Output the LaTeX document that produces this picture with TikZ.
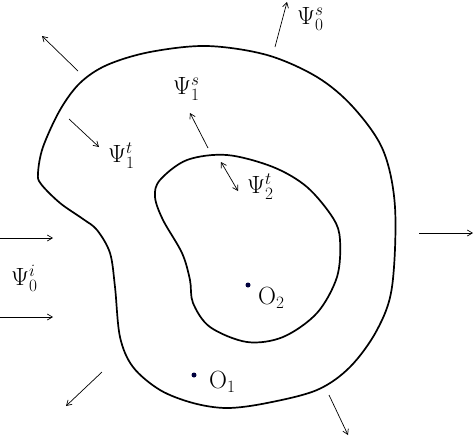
\documentclass[tikz,border=0pt]{standalone}
\usetikzlibrary{arrows.meta}
\tikzset{
  wave/.style={-{Straight Barb[length=5pt,width=6pt]}, line width=0.7pt},
  dwave/.style={{Straight Barb[length=5pt,width=6pt]}-{Straight Barb[length=5pt,width=6pt]}, line width=0.7pt},
  boundary/.style={line width=1.7pt},
  lab/.style={inner sep=0pt, anchor=west, font=\fontsize{23}{27}\selectfont},
  pt/.style={circle, fill=black!70!blue!80!black, inner sep=0pt, minimum size=5pt}
}
\begin{document}
\begin{tikzpicture}[x=1pt,y=-1pt]
\useasboundingbox (0,0) rectangle (474,437);
% outer boundary
\draw[boundary] plot[smooth cycle, tension=0.55] coordinates {
(38,173) (43,147) (60,110) (80,83) (107,65) (150,52) (207,46) (267,55) (317,77)
(353,107) (383,150) (395,207) (392,287) (377,330) (350,367) (317,390) (267,403)
(227,408) (193,403) (160,390) (133,367) (120,337) (115,287) (110,253) (97,230)
(83,219) (60,203) (41,184)};
% inner boundary
\draw[boundary] plot[smooth cycle, tension=0.55] coordinates {
(227,155) (273,167) (307,187) (333,218) (340,240) (337,277) (317,313) (283,337)
(247,342) (210,327) (193,303) (190,280) (182,253) (163,220) (155,197) (160,180)
(187,160)};
% coordinates for arrows
\coordinate (a1s) at (0,238);   \coordinate (a1e) at (53,238);
\coordinate (a2s) at (0,317);   \coordinate (a2e) at (53,317);
\coordinate (a3s) at (419,233); \coordinate (a3e) at (473,233);
\coordinate (a4s) at (275,47);  \coordinate (a4e) at (287,2);
\coordinate (a5s) at (78,71);   \coordinate (a5e) at (42,36);
\coordinate (a6s) at (102,372); \coordinate (a6e) at (66,406);
\coordinate (a7s) at (329,395); \coordinate (a7e) at (348,435);
\coordinate (a8s) at (208,148); \coordinate (a8e) at (190,113);
\coordinate (a9s) at (69,119);  \coordinate (a9e) at (99,147);
\coordinate (b1s) at (221,162); \coordinate (b1e) at (238,191);
\draw[wave] (a1s) -- (a1e);
\draw[wave] (a2s) -- (a2e);
\draw[wave] (a3s) -- (a3e);
\draw[wave] (a4s) -- (a4e);
\draw[wave] (a5s) -- (a5e);
\draw[wave] (a6s) -- (a6e);
\draw[wave] (a7s) -- (a7e);
\draw[wave] (a8s) -- (a8e);
\draw[wave] (a9s) -- (a9e);
\draw[dwave] (b1s) -- (b1e);
% labels
\node[lab] (l0s) at (297,19) {$\Psi_0^s$};
\node[lab] (l1s) at (173,89) {$\Psi_1^s$};
\node[lab] (l1t) at (108,156) {$\Psi_1^t$};
\node[lab] (l2t) at (247,187) {$\Psi_2^t$};
\node[lab] (l0i) at (11,278) {$\Psi_0^i$};
% points
\node[pt] (o2) at (248,285) {};
\node[pt] (o1) at (194,375) {};
\node[lab] (lo2) at (258,298) {$\mathrm{O}_2$};
\node[lab] (lo1) at (209,382) {$\mathrm{O}_1$};
\end{tikzpicture}
\end{document}
